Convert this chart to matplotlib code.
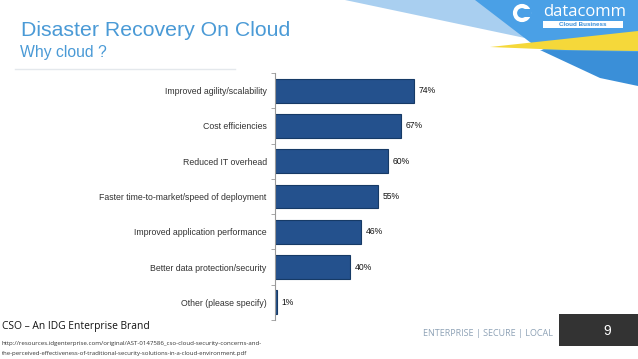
import matplotlib.pyplot as plt
from matplotlib.patches import Polygon, Rectangle, Circle
import numpy as np

categories = [
    "Improved agility/scalability",
    "Cost efficiencies",
    "Reduced IT overhead",
    "Faster time-to-market/speed of deployment",
    "Improved application performance",
    "Better data protection/security",
    "Other (please specify)",
]
values = [74, 67, 60, 55, 46, 40, 1]

W, H = 638, 359
fig = plt.figure(figsize=(W / 100, H / 100), dpi=100)
fig.patch.set_facecolor("white")
plt.rcParams["font.family"] = ["Liberation Sans", "DejaVu Sans"]


def fx(px):
    return px / W


def fy(py):
    return 1 - py / H


# background decoration (top right)
deco = fig.add_axes([0, 0, 1, 1], zorder=0)
deco.set_xlim(0, W)
deco.set_ylim(H, 0)
deco.axis("off")
deco.add_patch(Polygon([(345, 0), (490, 0), (525, 38)], closed=True, color="#a9cff0", lw=0))
deco.add_patch(Polygon([(475, 0), (638, 0), (638, 80), (600, 76), (535, 46)], closed=True, color="#4aa0e6", lw=0))
deco.add_patch(Polygon([(540, 50), (638, 52), (638, 86), (600, 78)], closed=True, color="#3a8fd8", lw=0))
deco.add_patch(Polygon([(490, 47), (638, 31), (638, 51), (565, 50)], closed=True, color="#f5d83a", lw=0))
deco.plot([15, 235], [69, 69], color="#e4e8ec", lw=1)

# logo
deco.add_patch(Circle((522, 13), 7, fill=False, ec="white", lw=3))
deco.add_patch(Rectangle((523, 9), 8, 8, color="#4aa0e6", lw=0))
deco.text(543, 12, "datacomm", color="white", fontsize=12, va="center", ha="left",
          family=["Open Sans", "DejaVu Sans"])
deco.add_patch(Rectangle((543, 21), 80, 7, color="white", lw=0))
deco.text(583, 24.5, "Cloud Business", color="#3a8fd8", fontsize=4.5, va="center", ha="center",
          fontweight="bold")

# titles
fig.text(fx(21), fy(31), "Disaster Recovery On Cloud", color="#4a9ad6", fontsize=15.3,
         va="center", ha="left")
fig.text(fx(20), fy(53), "Why cloud ?", color="#4a9ad6", fontsize=11.3, va="center", ha="left")

# chart
ax = fig.add_axes([fx(275), fy(320), fx(150), (320 - 73) / H], zorder=2)
ax.patch.set_alpha(0)
y = np.arange(len(categories))
ax.barh(y, values, height=0.68, color="#24518d", edgecolor="#163a66", lw=0.8)
for yi, v in zip(y, values):
    ax.text(v + 2.6, yi, f"{v}%", va="center", ha="left", fontsize=6.2, color="#111111")
ax.set_xlim(0, 80)
ax.set_ylim(len(categories) - 0.5, -0.5)
ax.set_yticks(y)
ax.set_yticklabels(categories, fontsize=6.3, color="#333333")
ax.set_yticks(np.arange(len(categories) + 1) - 0.5, minor=True)
ax.tick_params(axis="y", which="major", length=0, pad=6)
ax.tick_params(axis="y", which="minor", length=3, color="#999999", width=0.6)
ax.set_xticks([])
for s in ["top", "right", "bottom"]:
    ax.spines[s].set_visible(False)
ax.spines["left"].set_color("#999999")
ax.spines["left"].set_linewidth(0.8)

# footer
fig.text(fx(2), fy(327), "CSO \u2013 An IDG Enterprise Brand", fontsize=7.4, color="#111111",
         va="center", ha="left", family=["Open Sans", "DejaVu Sans"])
fig.text(fx(2), fy(343),
         "http://resources.idgenterprise.com/original/AST-0147586_cso-cloud-security-concerns-and-",
         fontsize=4.4, color="#333333", va="center", ha="left", family=["Open Sans", "DejaVu Sans"])
fig.text(fx(2), fy(353),
         "the-perceived-effectiveness-of-traditional-security-solutions-in-a-cloud-environment.pdf",
         fontsize=4.3, color="#333333", va="center", ha="left", family=["Open Sans", "DejaVu Sans"])
fig.text(fx(488), fy(333), "ENTERPRISE | SECURE | LOCAL", fontsize=6.5, color="#8ea2b6",
         va="center", ha="center", family=["Open Sans", "DejaVu Sans"])
deco.add_patch(Rectangle((559, 314), 80, 32, color="#333333", lw=0))
fig.text(fx(607), fy(331), "9", fontsize=10, color="white", va="center", ha="center")

fig.savefig("out.png", dpi=100)
